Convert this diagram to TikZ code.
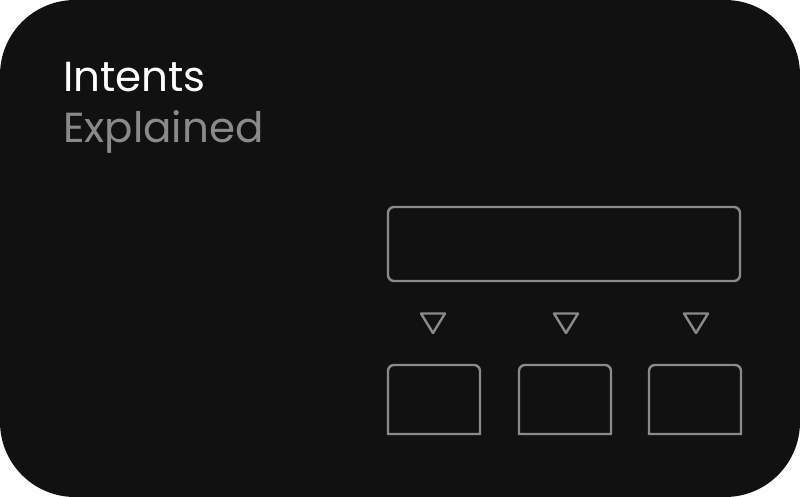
\documentclass[tikz,border=0pt]{standalone}
\usepackage{fontspec}
\setmainfont{Poppins}
\definecolor{bg}{HTML}{111111}
\definecolor{ln}{HTML}{8A8A8A}
\definecolor{sub}{HTML}{8A8A8A}
\tikzset{
  box/.style={draw=ln, line width=2.4pt, rounded corners=6pt},
  tri/.style={draw=ln, line width=2.4pt, line join=round}
}
\begin{document}
\begin{tikzpicture}[x=1pt,y=-1pt]
\useasboundingbox (0,0) rectangle (800,497);
\fill[white] (0,0) rectangle (800,497);
\fill[bg, rounded corners=75pt] (0,0) rectangle (800,497);
\node[anchor=base west, inner sep=0pt, text=white, font=\fontsize{42}{46}\selectfont] (t1) at (63,92) {Intents};
\node[anchor=base west, inner sep=0pt, text=sub, font=\fontsize{42}{46}\selectfont] (t2) at (63,143) {Explained};
\draw[box] (388,207) rectangle (740,281);
\foreach \x in {388,519,649}{
  \draw[draw=ln, line width=2.4pt] (\x,434) [rounded corners=6pt] -- (\x,365) -- (\x+92,365) [sharp corners] -- (\x+92,434) -- cycle;
}
\foreach \x in {433,566,696}{
  \draw[tri] (\x-12,313.5) -- (\x+12,313.5) -- (\x,333) -- cycle;
}
\end{tikzpicture}
\end{document}
